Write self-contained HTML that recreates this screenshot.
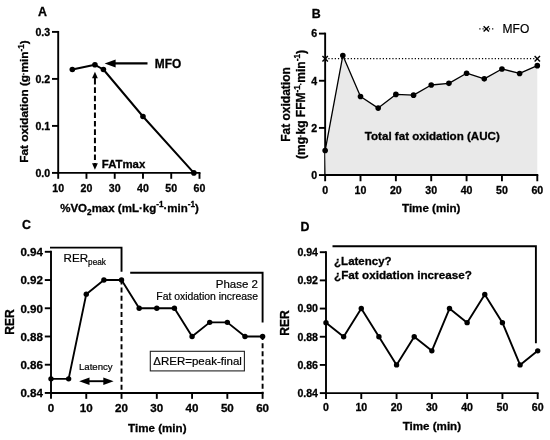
<!DOCTYPE html>
<html lang="en"><head><meta charset="utf-8"><title>Fat oxidation figure</title>
<style>
html,body{margin:0;padding:0;background:#fff;}
svg{display:block;font-family:"Liberation Sans",Arial,Helvetica,sans-serif;fill:#000;}
</style></head><body>
<svg width="550" height="440" viewBox="0 0 550 440">
<rect x="0" y="0" width="550" height="440" fill="#fff"/>
<text x="38.00" y="15.80" font-size="12.4" font-weight="bold" text-anchor="start" stroke="#000" stroke-width="0.3" >A</text>
<line x1="58.20" y1="30.95" x2="58.20" y2="173.85" stroke="#000" stroke-width="1.9" />
<line x1="52.00" y1="172.90" x2="58.20" y2="172.90" stroke="#000" stroke-width="1.9" />
<text x="50.20" y="176.69" font-size="10.6" font-weight="bold" text-anchor="end" stroke="#000" stroke-width="0.3" >0.0</text>
<line x1="52.00" y1="125.90" x2="58.20" y2="125.90" stroke="#000" stroke-width="1.9" />
<text x="50.20" y="129.69" font-size="10.6" font-weight="bold" text-anchor="end" stroke="#000" stroke-width="0.3" >0.1</text>
<line x1="52.00" y1="78.90" x2="58.20" y2="78.90" stroke="#000" stroke-width="1.9" />
<text x="50.20" y="82.69" font-size="10.6" font-weight="bold" text-anchor="end" stroke="#000" stroke-width="0.3" >0.2</text>
<line x1="52.00" y1="31.90" x2="58.20" y2="31.90" stroke="#000" stroke-width="1.9" />
<text x="50.20" y="35.69" font-size="10.6" font-weight="bold" text-anchor="end" stroke="#000" stroke-width="0.3" >0.3</text>
<line x1="57.25" y1="172.90" x2="200.45" y2="172.90" stroke="#000" stroke-width="1.9" />
<line x1="58.20" y1="172.90" x2="58.20" y2="178.80" stroke="#000" stroke-width="1.9" />
<text x="58.20" y="192.20" font-size="10.6" font-weight="bold" text-anchor="middle" stroke="#000" stroke-width="0.3" >10</text>
<line x1="86.46" y1="172.90" x2="86.46" y2="178.80" stroke="#000" stroke-width="1.9" />
<text x="86.46" y="192.20" font-size="10.6" font-weight="bold" text-anchor="middle" stroke="#000" stroke-width="0.3" >20</text>
<line x1="114.72" y1="172.90" x2="114.72" y2="178.80" stroke="#000" stroke-width="1.9" />
<text x="114.72" y="192.20" font-size="10.6" font-weight="bold" text-anchor="middle" stroke="#000" stroke-width="0.3" >30</text>
<line x1="142.98" y1="172.90" x2="142.98" y2="178.80" stroke="#000" stroke-width="1.9" />
<text x="142.98" y="192.20" font-size="10.6" font-weight="bold" text-anchor="middle" stroke="#000" stroke-width="0.3" >40</text>
<line x1="171.24" y1="172.90" x2="171.24" y2="178.80" stroke="#000" stroke-width="1.9" />
<text x="171.24" y="192.20" font-size="10.6" font-weight="bold" text-anchor="middle" stroke="#000" stroke-width="0.3" >50</text>
<line x1="199.50" y1="172.90" x2="199.50" y2="178.80" stroke="#000" stroke-width="1.9" />
<text x="199.50" y="192.20" font-size="10.6" font-weight="bold" text-anchor="middle" stroke="#000" stroke-width="0.3" >60</text>
<polyline points="72.33,69.50 94.94,64.80 103.42,69.50 142.98,116.50 193.85,172.90" fill="none" stroke="#000" stroke-width="2.0" stroke-linejoin="round" />
<circle cx="72.33" cy="69.50" r="2.8" fill="#000"/>
<circle cx="94.94" cy="64.80" r="2.8" fill="#000"/>
<circle cx="103.42" cy="69.50" r="2.8" fill="#000"/>
<circle cx="142.98" cy="116.50" r="2.8" fill="#000"/>
<circle cx="193.85" cy="172.90" r="2.8" fill="#000"/>
<text transform="translate(28.40,101.50) rotate(-90)" font-size="11.8" font-weight="bold" text-anchor="middle" stroke="#000" stroke-width="0.3">Fat oxidation (g<tspan font-size="7.5" dy="-2.2">·</tspan><tspan dy="2.2" font-size="0.1"> </tspan>min<tspan font-size="8.2" dy="-4.8">-1</tspan><tspan dy="4.8" font-size="0.1"> </tspan>)</text>
<text x="60.20" y="211.60" font-size="11.5" font-weight="bold" text-anchor="start" stroke="#000" stroke-width="0.3" >%VO<tspan font-size="8.2" dy="3.0">2</tspan><tspan dy="-3.0" font-size="0.1"> </tspan>max (mL·kg<tspan font-size="8.2" dy="-4.8">-1</tspan><tspan dy="4.8" font-size="0.1"> </tspan>·min<tspan font-size="8.2" dy="-4.8">-1</tspan><tspan dy="4.8" font-size="0.1"> </tspan>)</text>
<line x1="114.00" y1="63.40" x2="147.50" y2="63.40" stroke="#000" stroke-width="2.2" />
<polygon points="104.6,63.4 115.6,59.4 115.6,67.4" fill="#000"/>
<text x="154.80" y="67.60" font-size="11.9" font-weight="bold" text-anchor="start" stroke="#000" stroke-width="0.3" >MFO</text>
<line x1="94.94" y1="77.00" x2="94.94" y2="79.20" stroke="#000" stroke-width="2.0" />
<line x1="94.94" y1="78.90" x2="94.94" y2="165.00" stroke="#000" stroke-width="2.0" stroke-dasharray="5.6 2.8"/>
<polygon points="94.938,71.8 92.038,78.3 97.83800000000001,78.3" fill="#000"/>
<polygon points="94.938,169.8 92.038,163.3 97.83800000000001,163.3" fill="#000"/>
<text x="101.80" y="168.20" font-size="11.4" font-weight="bold" text-anchor="start" stroke="#000" stroke-width="0.3" >FATmax</text>
<text x="311.80" y="17.80" font-size="12.4" font-weight="bold" text-anchor="start" stroke="#000" stroke-width="0.3" >B</text>
<line x1="325.15" y1="32.65" x2="325.15" y2="176.00" stroke="#000" stroke-width="1.9" />
<line x1="318.95" y1="175.05" x2="325.15" y2="175.05" stroke="#000" stroke-width="1.9" />
<text x="317.15" y="178.84" font-size="10.6" font-weight="bold" text-anchor="end" stroke="#000" stroke-width="0.3" >0</text>
<line x1="318.95" y1="127.90" x2="325.15" y2="127.90" stroke="#000" stroke-width="1.9" />
<text x="317.15" y="131.69" font-size="10.6" font-weight="bold" text-anchor="end" stroke="#000" stroke-width="0.3" >2</text>
<line x1="318.95" y1="80.75" x2="325.15" y2="80.75" stroke="#000" stroke-width="1.9" />
<text x="317.15" y="84.54" font-size="10.6" font-weight="bold" text-anchor="end" stroke="#000" stroke-width="0.3" >4</text>
<line x1="318.95" y1="33.60" x2="325.15" y2="33.60" stroke="#000" stroke-width="1.9" />
<text x="317.15" y="37.39" font-size="10.6" font-weight="bold" text-anchor="end" stroke="#000" stroke-width="0.3" >6</text>
<polygon points="325.59999999999997,175.05 325.15,150.53 342.83,55.52 360.51,96.55 378.19,108.10 395.87,94.42 413.55,95.13 431.22,84.99 448.90,83.34 466.58,73.21 484.26,78.86 501.94,68.96 519.62,73.44 537.30,65.66 537.3,175.05" fill="#e9e9e9"/>
<line x1="324.20" y1="175.05" x2="538.25" y2="175.05" stroke="#000" stroke-width="1.9" />
<line x1="325.15" y1="175.05" x2="325.15" y2="181.25" stroke="#000" stroke-width="1.9" />
<text x="325.15" y="193.95" font-size="10.6" font-weight="bold" text-anchor="middle" stroke="#000" stroke-width="0.3" >0</text>
<line x1="360.51" y1="175.05" x2="360.51" y2="181.25" stroke="#000" stroke-width="1.9" />
<text x="360.51" y="193.95" font-size="10.6" font-weight="bold" text-anchor="middle" stroke="#000" stroke-width="0.3" >10</text>
<line x1="395.87" y1="175.05" x2="395.87" y2="181.25" stroke="#000" stroke-width="1.9" />
<text x="395.87" y="193.95" font-size="10.6" font-weight="bold" text-anchor="middle" stroke="#000" stroke-width="0.3" >20</text>
<line x1="431.22" y1="175.05" x2="431.22" y2="181.25" stroke="#000" stroke-width="1.9" />
<text x="431.22" y="193.95" font-size="10.6" font-weight="bold" text-anchor="middle" stroke="#000" stroke-width="0.3" >30</text>
<line x1="466.58" y1="175.05" x2="466.58" y2="181.25" stroke="#000" stroke-width="1.9" />
<text x="466.58" y="193.95" font-size="10.6" font-weight="bold" text-anchor="middle" stroke="#000" stroke-width="0.3" >40</text>
<line x1="501.94" y1="175.05" x2="501.94" y2="181.25" stroke="#000" stroke-width="1.9" />
<text x="501.94" y="193.95" font-size="10.6" font-weight="bold" text-anchor="middle" stroke="#000" stroke-width="0.3" >50</text>
<line x1="537.30" y1="175.05" x2="537.30" y2="181.25" stroke="#000" stroke-width="1.9" />
<text x="537.30" y="193.95" font-size="10.6" font-weight="bold" text-anchor="middle" stroke="#000" stroke-width="0.3" >60</text>
<line x1="325.15" y1="58.70" x2="537.30" y2="58.70" stroke="#000" stroke-width="1.3" stroke-dasharray="1.2 2.0"/>
<line x1="322.45" y1="56.00" x2="327.85" y2="61.40" stroke="#000" stroke-width="1.4" />
<line x1="322.45" y1="61.40" x2="327.85" y2="56.00" stroke="#000" stroke-width="1.4" />
<line x1="534.60" y1="56.00" x2="540.00" y2="61.40" stroke="#000" stroke-width="1.4" />
<line x1="534.60" y1="61.40" x2="540.00" y2="56.00" stroke="#000" stroke-width="1.4" />
<polyline points="325.15,150.53 342.83,55.52 360.51,96.55 378.19,108.10 395.87,94.42 413.55,95.13 431.22,84.99 448.90,83.34 466.58,73.21 484.26,78.86 501.94,68.96 519.62,73.44 537.30,65.66" fill="none" stroke="#000" stroke-width="1.3" stroke-linejoin="round" />
<circle cx="325.15" cy="150.53" r="2.8" fill="#000"/>
<circle cx="342.83" cy="55.52" r="2.8" fill="#000"/>
<circle cx="360.51" cy="96.55" r="2.8" fill="#000"/>
<circle cx="378.19" cy="108.10" r="2.8" fill="#000"/>
<circle cx="395.87" cy="94.42" r="2.8" fill="#000"/>
<circle cx="413.55" cy="95.13" r="2.8" fill="#000"/>
<circle cx="431.22" cy="84.99" r="2.8" fill="#000"/>
<circle cx="448.90" cy="83.34" r="2.8" fill="#000"/>
<circle cx="466.58" cy="73.21" r="2.8" fill="#000"/>
<circle cx="484.26" cy="78.86" r="2.8" fill="#000"/>
<circle cx="501.94" cy="68.96" r="2.8" fill="#000"/>
<circle cx="519.62" cy="73.44" r="2.8" fill="#000"/>
<circle cx="537.30" cy="65.66" r="2.8" fill="#000"/>
<text x="364.80" y="139.60" font-size="11.6" font-weight="bold" text-anchor="start" stroke="#000" stroke-width="0.3" >Total fat oxidation (AUC)</text>
<line x1="479.30" y1="28.90" x2="493.50" y2="28.90" stroke="#000" stroke-width="1.3" stroke-dasharray="1.2 2.0"/>
<line x1="483.60" y1="26.20" x2="489.00" y2="31.60" stroke="#000" stroke-width="1.4" />
<line x1="483.60" y1="31.60" x2="489.00" y2="26.20" stroke="#000" stroke-width="1.4" />
<text x="502.60" y="33.10" font-size="12" font-weight="normal" text-anchor="start" stroke="#000" stroke-width="0.2" >MFO</text>
<text transform="translate(289.60,104.50) rotate(-90)" font-size="12" font-weight="bold" text-anchor="middle" stroke="#000" stroke-width="0.3">Fat oxidation</text>
<text transform="translate(305.10,104.50) rotate(-90)" font-size="12" font-weight="bold" text-anchor="middle" stroke="#000" stroke-width="0.3">(mg<tspan font-size="7.5" dy="-2.2">·</tspan><tspan dy="2.2" font-size="0.1"> </tspan>kg FFM<tspan font-size="8.2" dy="-4.8">-1</tspan><tspan dy="4.8" font-size="0.1"> </tspan><tspan font-size="7.5" dy="-2.2">·</tspan><tspan dy="2.2" font-size="0.1"> </tspan>min<tspan font-size="8.2" dy="-4.8">-1</tspan><tspan dy="4.8" font-size="0.1"> </tspan>)</text>
<text x="431.22" y="211.90" font-size="11.6" font-weight="bold" text-anchor="middle" stroke="#000" stroke-width="0.3" >Time (min)</text>
<text x="22.00" y="228.90" font-size="12.4" font-weight="bold" text-anchor="start" stroke="#000" stroke-width="0.3" >C</text>
<line x1="51.00" y1="250.85" x2="51.00" y2="393.90" stroke="#000" stroke-width="1.9" />
<line x1="44.80" y1="392.95" x2="51.00" y2="392.95" stroke="#000" stroke-width="1.9" />
<text x="43.00" y="397.40" font-size="11.6" font-weight="bold" text-anchor="end" stroke="#000" stroke-width="0.3" >0.84</text>
<line x1="44.80" y1="364.72" x2="51.00" y2="364.72" stroke="#000" stroke-width="1.9" />
<text x="43.00" y="369.17" font-size="11.6" font-weight="bold" text-anchor="end" stroke="#000" stroke-width="0.3" >0.86</text>
<line x1="44.80" y1="336.49" x2="51.00" y2="336.49" stroke="#000" stroke-width="1.9" />
<text x="43.00" y="340.94" font-size="11.6" font-weight="bold" text-anchor="end" stroke="#000" stroke-width="0.3" >0.88</text>
<line x1="44.80" y1="308.26" x2="51.00" y2="308.26" stroke="#000" stroke-width="1.9" />
<text x="43.00" y="312.71" font-size="11.6" font-weight="bold" text-anchor="end" stroke="#000" stroke-width="0.3" >0.90</text>
<line x1="44.80" y1="280.03" x2="51.00" y2="280.03" stroke="#000" stroke-width="1.9" />
<text x="43.00" y="284.48" font-size="11.6" font-weight="bold" text-anchor="end" stroke="#000" stroke-width="0.3" >0.92</text>
<line x1="44.80" y1="251.80" x2="51.00" y2="251.80" stroke="#000" stroke-width="1.9" />
<text x="43.00" y="256.25" font-size="11.6" font-weight="bold" text-anchor="end" stroke="#000" stroke-width="0.3" >0.94</text>
<line x1="50.05" y1="392.95" x2="263.55" y2="392.95" stroke="#000" stroke-width="1.9" />
<line x1="51.00" y1="392.95" x2="51.00" y2="398.85" stroke="#000" stroke-width="1.9" />
<text x="51.00" y="412.45" font-size="11.6" font-weight="bold" text-anchor="middle" stroke="#000" stroke-width="0.3" >0</text>
<line x1="86.27" y1="392.95" x2="86.27" y2="398.85" stroke="#000" stroke-width="1.9" />
<text x="86.27" y="412.45" font-size="11.6" font-weight="bold" text-anchor="middle" stroke="#000" stroke-width="0.3" >10</text>
<line x1="121.53" y1="392.95" x2="121.53" y2="398.85" stroke="#000" stroke-width="1.9" />
<text x="121.53" y="412.45" font-size="11.6" font-weight="bold" text-anchor="middle" stroke="#000" stroke-width="0.3" >20</text>
<line x1="156.80" y1="392.95" x2="156.80" y2="398.85" stroke="#000" stroke-width="1.9" />
<text x="156.80" y="412.45" font-size="11.6" font-weight="bold" text-anchor="middle" stroke="#000" stroke-width="0.3" >30</text>
<line x1="192.07" y1="392.95" x2="192.07" y2="398.85" stroke="#000" stroke-width="1.9" />
<text x="192.07" y="412.45" font-size="11.6" font-weight="bold" text-anchor="middle" stroke="#000" stroke-width="0.3" >40</text>
<line x1="227.33" y1="392.95" x2="227.33" y2="398.85" stroke="#000" stroke-width="1.9" />
<text x="227.33" y="412.45" font-size="11.6" font-weight="bold" text-anchor="middle" stroke="#000" stroke-width="0.3" >50</text>
<line x1="262.60" y1="392.95" x2="262.60" y2="398.85" stroke="#000" stroke-width="1.9" />
<text x="262.60" y="412.45" font-size="11.6" font-weight="bold" text-anchor="middle" stroke="#000" stroke-width="0.3" >60</text>
<polyline points="50,247.6 121.53333333333333,247.6 121.53333333333333,271.8" fill="none" stroke="#000" stroke-width="1.9"/>
<line x1="121.53" y1="279.50" x2="121.53" y2="392.95" stroke="#000" stroke-width="1.9" stroke-dasharray="5 3.1"/>
<polyline points="130.2,272.8 262.6,272.8 262.6,322.5" fill="none" stroke="#000" stroke-width="1.9"/>
<line x1="262.60" y1="335.10" x2="262.60" y2="392.95" stroke="#000" stroke-width="1.9" stroke-dasharray="5 3.1"/>
<polyline points="51.00,378.83 68.63,378.83 86.27,294.14 103.90,280.03 121.53,280.03 139.17,308.26 156.80,308.26 174.43,308.26 192.07,336.49 209.70,322.37 227.33,322.37 244.97,336.49 262.60,336.49" fill="none" stroke="#000" stroke-width="1.9" stroke-linejoin="round" />
<circle cx="51.00" cy="378.83" r="2.7" fill="#000"/>
<circle cx="68.63" cy="378.83" r="2.7" fill="#000"/>
<circle cx="86.27" cy="294.14" r="2.7" fill="#000"/>
<circle cx="103.90" cy="280.03" r="2.7" fill="#000"/>
<circle cx="121.53" cy="280.03" r="2.7" fill="#000"/>
<circle cx="139.17" cy="308.26" r="2.7" fill="#000"/>
<circle cx="156.80" cy="308.26" r="2.7" fill="#000"/>
<circle cx="174.43" cy="308.26" r="2.7" fill="#000"/>
<circle cx="192.07" cy="336.49" r="2.7" fill="#000"/>
<circle cx="209.70" cy="322.37" r="2.7" fill="#000"/>
<circle cx="227.33" cy="322.37" r="2.7" fill="#000"/>
<circle cx="244.97" cy="336.49" r="2.7" fill="#000"/>
<circle cx="262.60" cy="336.49" r="2.7" fill="#000"/>
<text x="63.60" y="262.00" font-size="11.6" font-weight="normal" text-anchor="start" stroke="#000" stroke-width="0.2" >RER<tspan font-size="8.2" dy="3.0">peak</tspan><tspan dy="-3.0" font-size="0.1"> </tspan></text>
<text x="258.00" y="287.50" font-size="11.5" font-weight="normal" text-anchor="end" stroke="#000" stroke-width="0.2" >Phase 2</text>
<text x="258.00" y="299.60" font-size="10.4" font-weight="normal" text-anchor="end" stroke="#000" stroke-width="0.2" >Fat oxidation increase</text>
<text x="79.00" y="370.20" font-size="9.6" font-weight="normal" text-anchor="start" stroke="#000" stroke-width="0.2" >Latency</text>
<line x1="86.00" y1="381.20" x2="107.00" y2="381.20" stroke="#000" stroke-width="1.9" />
<polygon points="79.2,381.2 89.5,377.4 89.5,385" fill="#000"/>
<polygon points="113.6,381.2 103.3,377.4 103.3,385" fill="#000"/>
<rect x="150.3" y="351.3" width="94.1" height="19.6" fill="#fff" stroke="#222" stroke-width="1.1"/>
<text x="153.30" y="365.10" font-size="11.5" font-weight="normal" text-anchor="start" stroke="#000" stroke-width="0.2" >ΔRER=peak-final</text>
<text transform="translate(13.80,322.00) rotate(-90)" font-size="12" font-weight="bold" text-anchor="middle" stroke="#000" stroke-width="0.3">RER</text>
<text x="157.30" y="431.50" font-size="11.6" font-weight="bold" text-anchor="middle" stroke="#000" stroke-width="0.3" >Time (min)</text>
<text x="300.60" y="231.00" font-size="12.4" font-weight="bold" text-anchor="start" stroke="#000" stroke-width="0.3" >D</text>
<line x1="326.00" y1="251.25" x2="326.00" y2="394.05" stroke="#000" stroke-width="1.9" />
<line x1="319.80" y1="393.10" x2="326.00" y2="393.10" stroke="#000" stroke-width="1.9" />
<text x="318.00" y="396.89" font-size="10.6" font-weight="bold" text-anchor="end" stroke="#000" stroke-width="0.3" >0.84</text>
<line x1="319.80" y1="364.92" x2="326.00" y2="364.92" stroke="#000" stroke-width="1.9" />
<text x="318.00" y="368.71" font-size="10.6" font-weight="bold" text-anchor="end" stroke="#000" stroke-width="0.3" >0.86</text>
<line x1="319.80" y1="336.74" x2="326.00" y2="336.74" stroke="#000" stroke-width="1.9" />
<text x="318.00" y="340.53" font-size="10.6" font-weight="bold" text-anchor="end" stroke="#000" stroke-width="0.3" >0.88</text>
<line x1="319.80" y1="308.56" x2="326.00" y2="308.56" stroke="#000" stroke-width="1.9" />
<text x="318.00" y="312.35" font-size="10.6" font-weight="bold" text-anchor="end" stroke="#000" stroke-width="0.3" >0.90</text>
<line x1="319.80" y1="280.38" x2="326.00" y2="280.38" stroke="#000" stroke-width="1.9" />
<text x="318.00" y="284.17" font-size="10.6" font-weight="bold" text-anchor="end" stroke="#000" stroke-width="0.3" >0.92</text>
<line x1="319.80" y1="252.20" x2="326.00" y2="252.20" stroke="#000" stroke-width="1.9" />
<text x="318.00" y="255.99" font-size="10.6" font-weight="bold" text-anchor="end" stroke="#000" stroke-width="0.3" >0.94</text>
<line x1="325.05" y1="393.10" x2="538.65" y2="393.10" stroke="#000" stroke-width="1.9" />
<line x1="326.00" y1="393.10" x2="326.00" y2="399.00" stroke="#000" stroke-width="1.9" />
<text x="326.00" y="411.40" font-size="10.6" font-weight="bold" text-anchor="middle" stroke="#000" stroke-width="0.3" >0</text>
<line x1="361.28" y1="393.10" x2="361.28" y2="399.00" stroke="#000" stroke-width="1.9" />
<text x="361.28" y="411.40" font-size="10.6" font-weight="bold" text-anchor="middle" stroke="#000" stroke-width="0.3" >10</text>
<line x1="396.57" y1="393.10" x2="396.57" y2="399.00" stroke="#000" stroke-width="1.9" />
<text x="396.57" y="411.40" font-size="10.6" font-weight="bold" text-anchor="middle" stroke="#000" stroke-width="0.3" >20</text>
<line x1="431.85" y1="393.10" x2="431.85" y2="399.00" stroke="#000" stroke-width="1.9" />
<text x="431.85" y="411.40" font-size="10.6" font-weight="bold" text-anchor="middle" stroke="#000" stroke-width="0.3" >30</text>
<line x1="467.13" y1="393.10" x2="467.13" y2="399.00" stroke="#000" stroke-width="1.9" />
<text x="467.13" y="411.40" font-size="10.6" font-weight="bold" text-anchor="middle" stroke="#000" stroke-width="0.3" >40</text>
<line x1="502.42" y1="393.10" x2="502.42" y2="399.00" stroke="#000" stroke-width="1.9" />
<text x="502.42" y="411.40" font-size="10.6" font-weight="bold" text-anchor="middle" stroke="#000" stroke-width="0.3" >50</text>
<line x1="537.70" y1="393.10" x2="537.70" y2="399.00" stroke="#000" stroke-width="1.9" />
<text x="537.70" y="411.40" font-size="10.6" font-weight="bold" text-anchor="middle" stroke="#000" stroke-width="0.3" >60</text>
<polyline points="332.5,246.2 535.9,246.2 535.9,343.2" fill="none" stroke="#000" stroke-width="1.9"/>
<polyline points="326.00,322.65 343.64,336.74 361.28,308.56 378.93,336.74 396.57,364.92 414.21,336.74 431.85,350.83 449.49,308.56 467.13,322.65 484.78,294.47 502.42,322.65 520.06,364.92 537.70,350.83" fill="none" stroke="#000" stroke-width="1.9" stroke-linejoin="round" />
<circle cx="326.00" cy="322.65" r="2.7" fill="#000"/>
<circle cx="343.64" cy="336.74" r="2.7" fill="#000"/>
<circle cx="361.28" cy="308.56" r="2.7" fill="#000"/>
<circle cx="378.93" cy="336.74" r="2.7" fill="#000"/>
<circle cx="396.57" cy="364.92" r="2.7" fill="#000"/>
<circle cx="414.21" cy="336.74" r="2.7" fill="#000"/>
<circle cx="431.85" cy="350.83" r="2.7" fill="#000"/>
<circle cx="449.49" cy="308.56" r="2.7" fill="#000"/>
<circle cx="467.13" cy="322.65" r="2.7" fill="#000"/>
<circle cx="484.78" cy="294.47" r="2.7" fill="#000"/>
<circle cx="502.42" cy="322.65" r="2.7" fill="#000"/>
<circle cx="520.06" cy="364.92" r="2.7" fill="#000"/>
<circle cx="537.70" cy="350.83" r="2.7" fill="#000"/>
<text x="334.10" y="265.30" font-size="11.5" font-weight="bold" text-anchor="start" stroke="#000" stroke-width="0.3" >¿Latency?</text>
<text x="334.10" y="279.20" font-size="11.7" font-weight="bold" text-anchor="start" stroke="#000" stroke-width="0.3" >¿Fat oxidation increase?</text>
<text transform="translate(288.50,323.00) rotate(-90)" font-size="12" font-weight="bold" text-anchor="middle" stroke="#000" stroke-width="0.3">RER</text>
<text x="431.85" y="430.00" font-size="11.6" font-weight="bold" text-anchor="middle" stroke="#000" stroke-width="0.3" >Time (min)</text>
</svg>
</body></html>
